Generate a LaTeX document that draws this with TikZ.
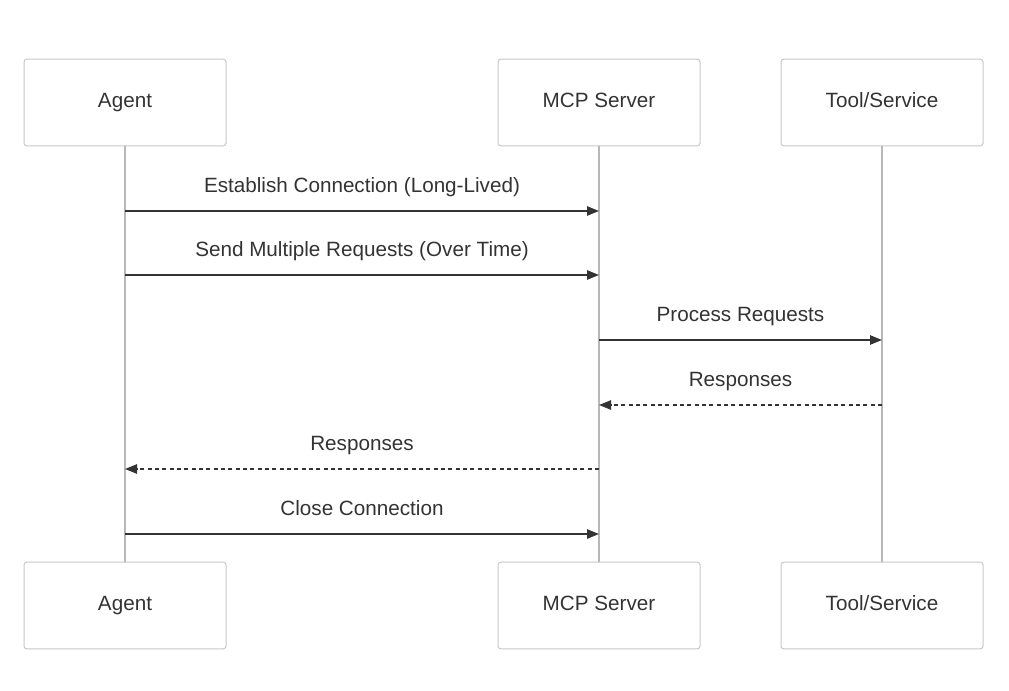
\documentclass[tikz,border=0pt]{standalone}
\usepackage{fontspec}
\setmainfont{Liberation Sans}
\usetikzlibrary{arrows.meta}
\definecolor{txt}{HTML}{333333}
\begin{document}
\begin{tikzpicture}[x=0.75pt,y=-0.75pt,
 box/.style={draw=black!22,line width=0.75pt,rounded corners=2pt,minimum width=151.5pt,minimum height=65pt,inner sep=0pt,font=\fontsize{15.5}{18}\selectfont,text=txt,text height=11pt,text depth=3pt},
 life/.style={draw=black!28,line width=1.5pt},
 msg/.style={draw=txt,line width=1.1pt,-{Triangle[length=9pt,width=7pt]}},
 ret/.style={msg,dash pattern=on 3pt off 2.5pt},
 lab/.style={font=\fontsize{15.5}{18}\selectfont,text=txt,anchor=base}]
\useasboundingbox (0,0) rectangle (1009,691);
\node[box] (a1) at (125,102.5) {Agent};
\node[box] (m1) at (599,102.5) {MCP Server};
\node[box] (t1) at (882,102.5) {Tool/Service};
\node[box] (a2) at (125,605.5) {Agent};
\node[box] (m2) at (599,605.5) {MCP Server};
\node[box] (t2) at (882,605.5) {Tool/Service};
\draw[life] (a1) -- (a2);
\draw[life] (m1) -- (m2);
\draw[life] (t1) -- (t2);
\foreach \n/\x in {a/125,m/599,t/882}{
 \foreach \i/\y in {1/211,2/275,3/340,4/405,5/469,6/534}{
  \coordinate (\n\i) at (\x,\y);}}
\draw[msg] (a1) -- node[lab,above=14pt,anchor=base] {Establish Connection (Long-Lived)} (m1);
\draw[msg] (a2) -- node[lab,above=14pt,anchor=base] {Send Multiple Requests (Over Time)} (m2);
\draw[msg] (m3) -- node[lab,above=14pt,anchor=base] {Process Requests} (t3);
\draw[ret] (t4) -- node[lab,above=14pt,anchor=base] {Responses} (m4);
\draw[ret] (m5) -- node[lab,above=14pt,anchor=base] {Responses} (a5);
\draw[msg] (a6) -- node[lab,above=14pt,anchor=base] {Close Connection} (m6);
\end{tikzpicture}
\end{document}
